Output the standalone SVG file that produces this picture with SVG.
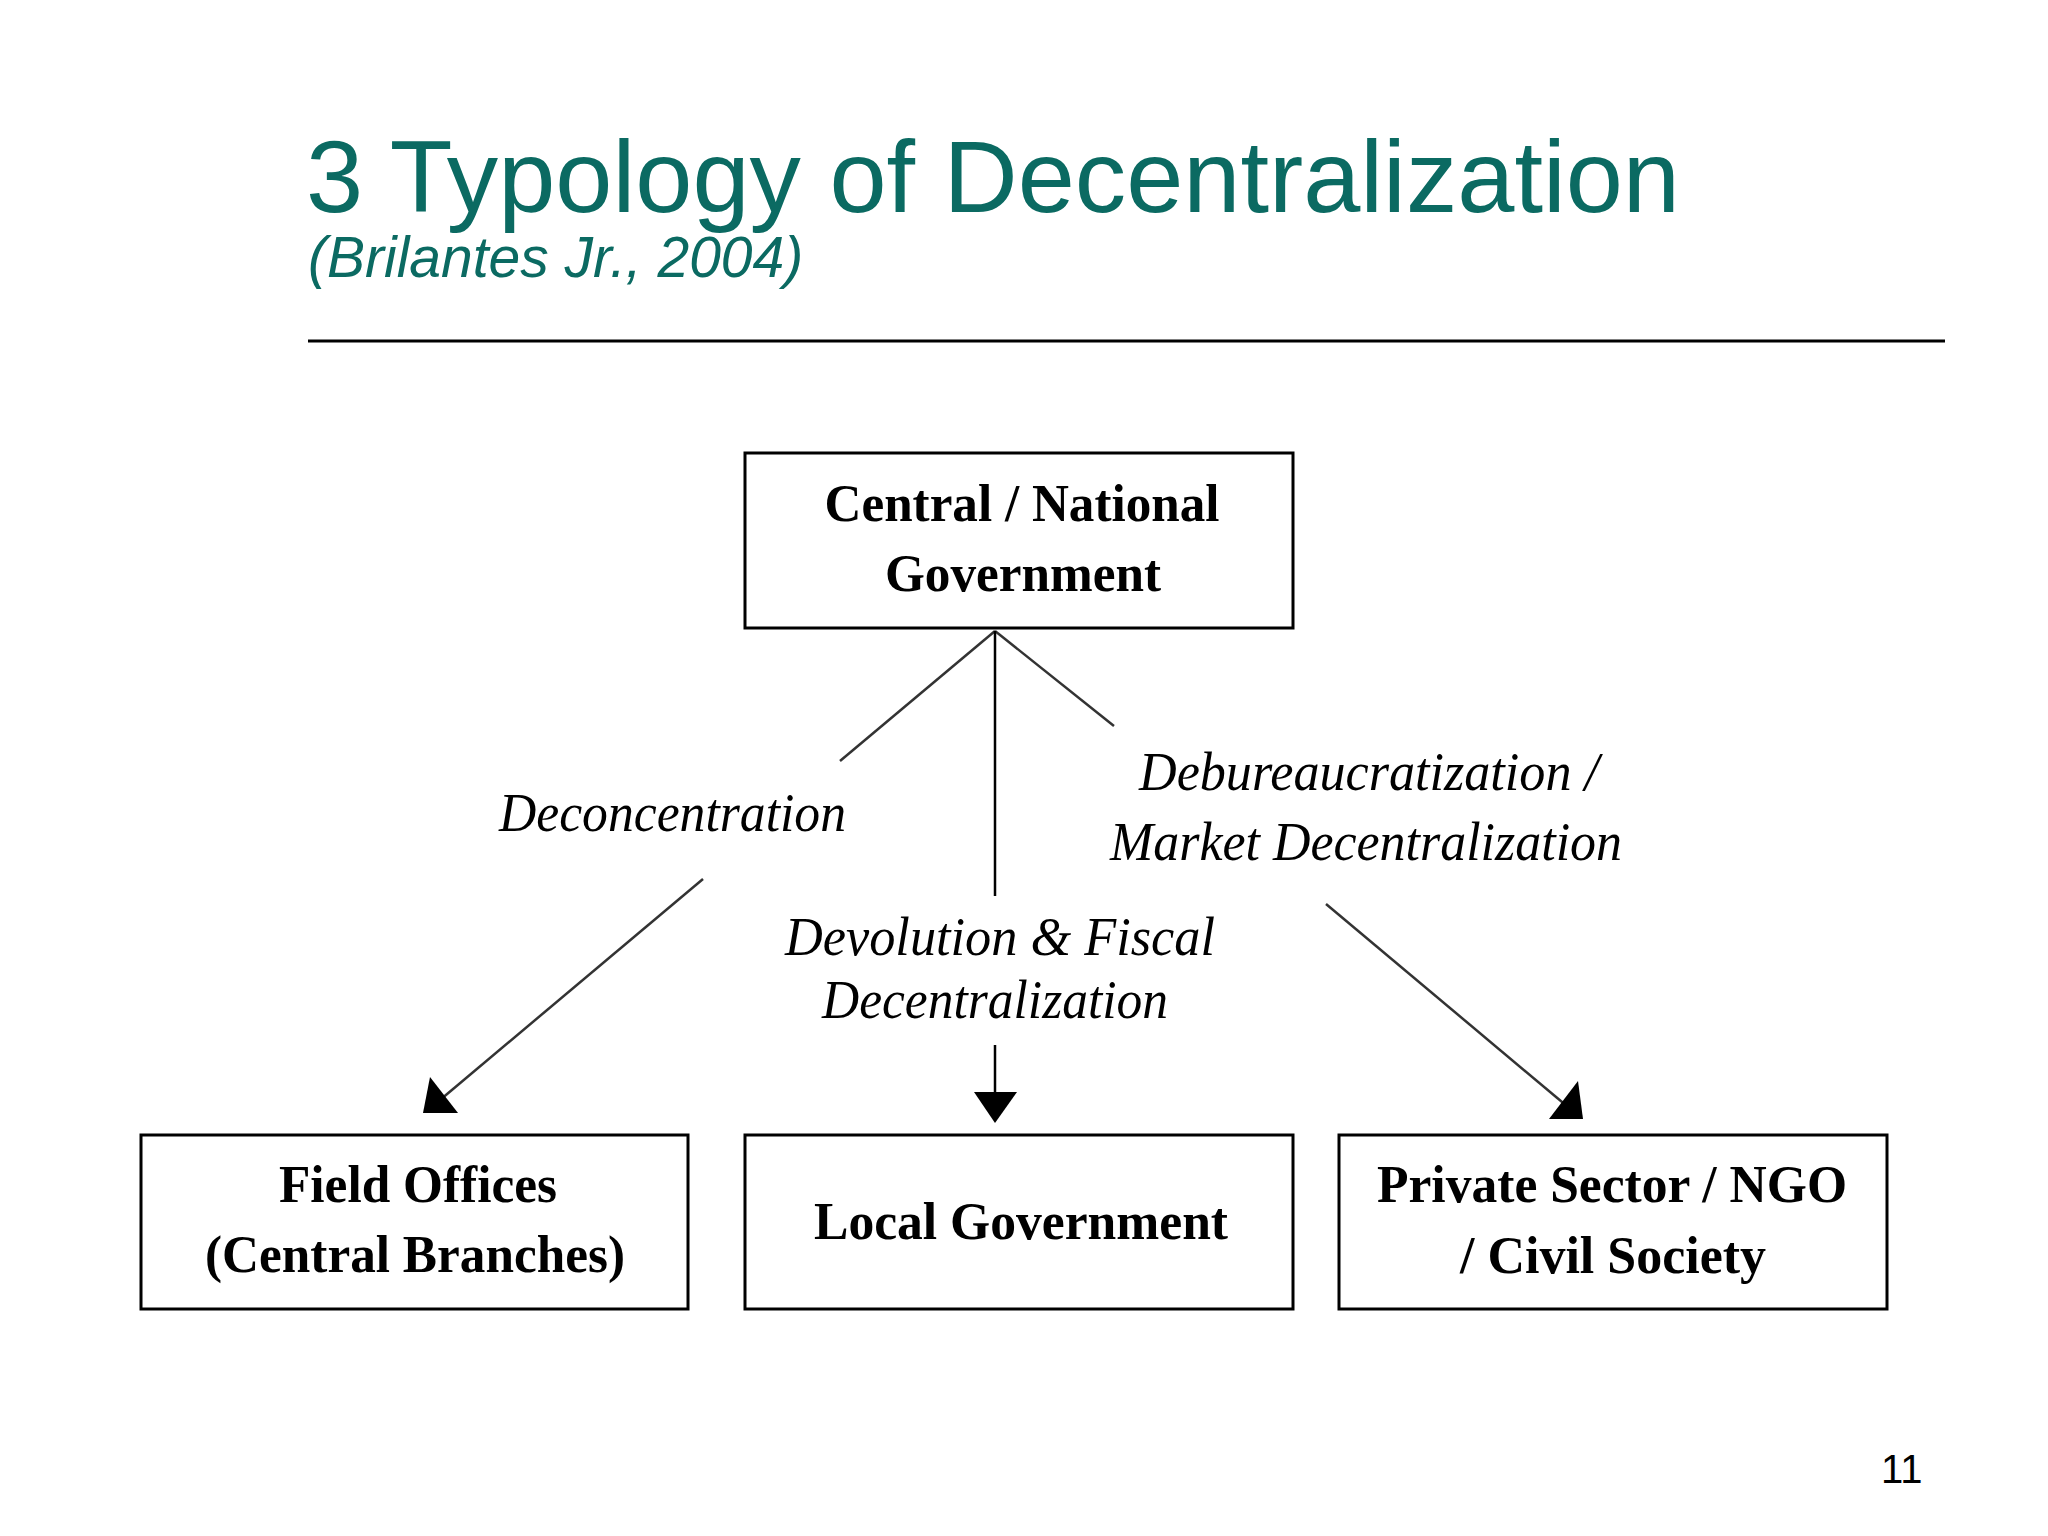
<svg xmlns="http://www.w3.org/2000/svg" width="2048" height="1536" viewBox="0 0 2048 1536">
  <style>
    .title { font-family: "Liberation Sans", Arial, sans-serif; fill: #0B6A62; }
    .box { fill: #ffffff; stroke: #000000; stroke-width: 3; }
    .bt { font-family: "Liberation Serif", "Times New Roman", serif; font-weight: bold; font-size: 53px; fill: #000; text-anchor: middle; }
    .lab { font-family: "Liberation Serif", "Times New Roman", serif; font-style: italic; font-size: 54px; fill: #000; }
    .diag { stroke: #333333; stroke-width: 2.5; fill: none; }
    .vert { stroke: #000000; stroke-width: 2.5; fill: none; }
    .head { fill: #000000; stroke: none; }
  </style>
  <rect width="2048" height="1536" fill="#ffffff"/>

  <g id="title">
    <text class="title" x="306" y="212" font-size="102" textLength="1374" lengthAdjust="spacingAndGlyphs">3 Typology of Decentralization</text>
    <text class="title" x="308" y="277" font-size="57" font-style="italic">(Brilantes Jr., 2004)</text>
    <line x1="308" y1="341" x2="1945" y2="341" stroke="#000" stroke-width="3"/>
  </g>

  <g id="connectors">
    <line class="diag" x1="995" y1="631" x2="840" y2="761"/>
    <line class="diag" x1="995" y1="631" x2="1114" y2="726"/>
    <line class="vert" x1="995" y1="631" x2="995" y2="896"/>
    <line class="diag" x1="703" y1="879" x2="440" y2="1100"/>
    <polygon class="head" points="430,1077 423,1113 458,1113"/>
    <line class="vert" x1="995" y1="1045" x2="995" y2="1095"/>
    <polygon class="head" points="974,1092 1017,1092 995,1123"/>
    <line class="diag" x1="1326" y1="904" x2="1568" y2="1107"/>
    <polygon class="head" points="1578,1081 1583,1119 1549,1119"/>
  </g>

  <g id="labels">
    <text class="lab" x="499" y="831" textLength="347" lengthAdjust="spacingAndGlyphs">Deconcentration</text>
    <text class="lab" x="1139" y="790" textLength="460" lengthAdjust="spacingAndGlyphs">Debureaucratization /</text>
    <text class="lab" x="1110" y="860" textLength="512" lengthAdjust="spacingAndGlyphs">Market Decentralization</text>
    <text class="lab" x="785" y="955" textLength="430" lengthAdjust="spacingAndGlyphs">Devolution &amp; Fiscal</text>
    <text class="lab" x="822" y="1018" textLength="346" lengthAdjust="spacingAndGlyphs">Decentralization</text>
  </g>

  <g id="node-central">
    <rect class="box" x="745" y="453" width="548" height="175"/>
    <text class="bt" x="1022" y="521" textLength="395" lengthAdjust="spacingAndGlyphs">Central / National</text>
    <text class="bt" x="1023" y="591" textLength="276" lengthAdjust="spacingAndGlyphs">Government</text>
  </g>

  <g id="node-field">
    <rect class="box" x="141" y="1135" width="547" height="174"/>
    <text class="bt" x="418" y="1202" textLength="278" lengthAdjust="spacingAndGlyphs">Field Offices</text>
    <text class="bt" x="415" y="1272" textLength="420" lengthAdjust="spacingAndGlyphs">(Central Branches)</text>
  </g>

  <g id="node-local">
    <rect class="box" x="745" y="1135" width="548" height="174"/>
    <text class="bt" x="1021" y="1239" textLength="414" lengthAdjust="spacingAndGlyphs">Local Government</text>
  </g>

  <g id="node-private">
    <rect class="box" x="1339" y="1135" width="548" height="174"/>
    <text class="bt" x="1612" y="1202" textLength="470" lengthAdjust="spacingAndGlyphs">Private Sector / NGO</text>
    <text class="bt" x="1613" y="1273" textLength="306" lengthAdjust="spacingAndGlyphs">/ Civil Society</text>
  </g>

  <text x="1881" y="1483" font-family="'Liberation Sans', Arial, sans-serif" font-size="40" fill="#000">11</text>
</svg>
